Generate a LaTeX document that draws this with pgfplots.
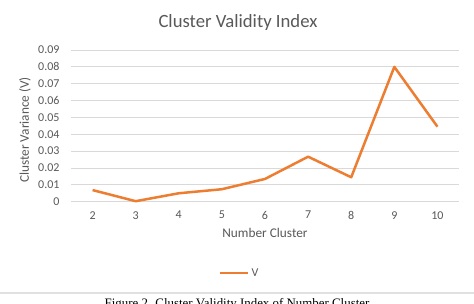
\documentclass[border=0pt]{standalone}
\usepackage{pgfplots}
\pgfplotsset{compat=1.18}
\usepackage{fontspec}
\setmainfont{Carlito}
\newfontfamily\capfont{Liberation Serif}
\definecolor{vorange}{HTML}{ED7D31}
\definecolor{txtgray}{HTML}{595959}
\definecolor{gridgray}{HTML}{D9D9D9}
\begin{document}
\begin{tikzpicture}
\useasboundingbox (0pt,0pt) rectangle (474pt,303pt);
\begin{scope}
\clip (0pt,0pt) rectangle (474pt,303pt);
\fill[white] (0pt,0pt) rectangle (474pt,303pt);
\draw[gridgray!80, line width=1.2pt] (0pt,10pt) -- (474pt,10pt);
\node[font=\capfont\fontsize{12.9}{14}\selectfont, anchor=base] at (237pt,-4.5pt) {Figure 2. Cluster Validity Index of Number Cluster};
\end{scope}
\node[font=\fontsize{18.7}{20}\selectfont, text=txtgray, anchor=base] at (238pt,275pt) {Cluster Validity Index};
\node[font=\fontsize{13.3}{15}\selectfont, text=txtgray, rotate=90] at (25pt,173pt) {Cluster Variance (V)};
\begin{axis}[
  at={(71pt,101.3pt)}, anchor=south west,
  scale only axis, width=388pt, height=151.7pt,
  xmin=1.5, xmax=10.5, ymin=0, ymax=0.09,
  xtick={2,3,4,5,6,7,8,9,10},
  ytick={0,0.01,0.02,0.03,0.04,0.05,0.06,0.07,0.08,0.09},
  yticklabels={0,0.01,0.02,0.03,0.04,0.05,0.06,0.07,0.08,0.09},
  scaled y ticks=false,
  axis line style={draw=none},
  ymajorgrids, grid style={gridgray, line width=0.8pt},
  major tick length=0pt,
  tick label style={font=\fontsize{12}{14}\selectfont, text=txtgray},
  /pgf/number format/assume math mode=true,
  yticklabel style={xshift=-8pt},
  xticklabel style={yshift=-6pt},
  xlabel={Number Cluster},
  xlabel style={font=\fontsize{13.3}{15}\selectfont, text=txtgray, yshift=-2pt},
  legend style={at={(0.435,-0.47)}, anchor=center, draw=none, fill=none,
    font=\fontsize{12}{14}\selectfont, text=txtgray},
  legend image code/.code={\draw[#1, line width=2.5pt] (0pt,0pt) -- (28pt,0pt);},
  clip=false,
]
\addplot[vorange, line width=2.5pt, line join=round] coordinates {
(2,0.0069) (3,0.0003) (4,0.0050) (5,0.0074) (6,0.0135) (7,0.0267) (8,0.0145) (9,0.0800) (10,0.0445)
};
\addlegendentry{V}
\end{axis}
\end{tikzpicture}
\end{document}
